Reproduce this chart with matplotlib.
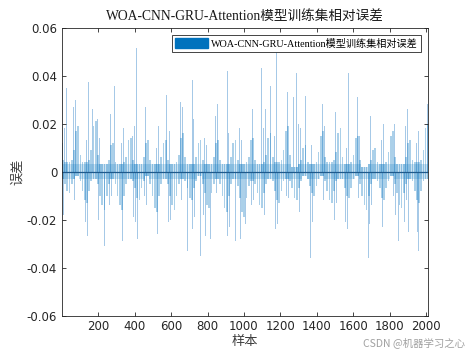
import matplotlib
matplotlib.use("Agg")
import matplotlib.pyplot as plt
from matplotlib.patches import Patch
import numpy as np

# bins of 12 samples, 8 bins per "day" of 96 samples, 21 rows
bin_size = 12
# dense part of the error bars in each bin
pos_core = [
    [0.005, 0.004, 0.004, 0.004, 0.005, 0.009, 0.017, 0.019],
    [0.007, 0.004, 0.004, 0.004, 0.005, 0.009, 0.019, 0.021],
    [0.007, 0.003, 0.003, 0.003, 0.003, 0.005, 0.011, 0.012],
    [0.004, 0.003, 0.003, 0.003, 0.004, 0.006, 0.013, 0.014],
    [0.005, 0.003, 0.003, 0.003, 0.003, 0.006, 0.012, 0.013],
    [0.005, 0.003, 0.003, 0.003, 0.003, 0.006, 0.012, 0.013],
    [0.005, 0.003, 0.003, 0.003, 0.004, 0.007, 0.014, 0.016],
    [0.006, 0.003, 0.003, 0.003, 0.003, 0.006, 0.012, 0.013],
    [0.005, 0.003, 0.003, 0.003, 0.003, 0.006, 0.012, 0.013],
    [0.005, 0.003, 0.003, 0.003, 0.003, 0.006, 0.012, 0.013],
    [0.005, 0.003, 0.003, 0.003, 0.004, 0.006, 0.013, 0.014],
    [0.005, 0.003, 0.003, 0.003, 0.004, 0.007, 0.014, 0.016],
    [0.006, 0.004, 0.004, 0.004, 0.005, 0.009, 0.017, 0.019],
    [0.007, 0.002, 0.002, 0.002, 0.003, 0.005, 0.010, 0.011],
    [0.004, 0.003, 0.003, 0.003, 0.004, 0.008, 0.015, 0.017],
    [0.006, 0.004, 0.004, 0.004, 0.005, 0.008, 0.016, 0.018],
    [0.006, 0.003, 0.003, 0.003, 0.004, 0.007, 0.014, 0.015],
    [0.005, 0.002, 0.002, 0.002, 0.003, 0.005, 0.009, 0.010],
    [0.004, 0.003, 0.003, 0.003, 0.004, 0.008, 0.015, 0.017],
    [0.006, 0.003, 0.003, 0.003, 0.003, 0.006, 0.012, 0.013],
    [0.005, 0.004, 0.004, 0.004, 0.005, 0.009, 0.018, 0.020],
]
neg_core = [
    [-0.003, -0.005, -0.008, -0.009, -0.005, -0.003, -0.002, -0.002],
    [-0.004, -0.008, -0.012, -0.013, -0.008, -0.004, -0.003, -0.003],
    [-0.005, -0.010, -0.014, -0.016, -0.010, -0.005, -0.003, -0.003],
    [-0.005, -0.010, -0.014, -0.016, -0.010, -0.005, -0.003, -0.003],
    [-0.004, -0.007, -0.011, -0.012, -0.007, -0.004, -0.002, -0.002],
    [-0.005, -0.010, -0.015, -0.017, -0.010, -0.005, -0.003, -0.003],
    [-0.005, -0.010, -0.014, -0.016, -0.010, -0.005, -0.003, -0.003],
    [-0.004, -0.007, -0.011, -0.012, -0.007, -0.004, -0.002, -0.002],
    [-0.005, -0.009, -0.014, -0.015, -0.009, -0.005, -0.003, -0.003],
    [-0.005, -0.010, -0.015, -0.017, -0.010, -0.005, -0.003, -0.003],
    [-0.006, -0.011, -0.017, -0.019, -0.011, -0.006, -0.004, -0.004],
    [-0.005, -0.009, -0.014, -0.015, -0.009, -0.005, -0.003, -0.003],
    [-0.004, -0.008, -0.012, -0.013, -0.008, -0.004, -0.003, -0.003],
    [-0.004, -0.007, -0.011, -0.012, -0.007, -0.004, -0.002, -0.002],
    [-0.003, -0.006, -0.009, -0.010, -0.006, -0.003, -0.002, -0.002],
    [-0.004, -0.008, -0.012, -0.013, -0.008, -0.004, -0.003, -0.003],
    [-0.003, -0.007, -0.010, -0.011, -0.007, -0.003, -0.002, -0.002],
    [-0.005, -0.010, -0.014, -0.016, -0.010, -0.005, -0.003, -0.003],
    [-0.004, -0.007, -0.011, -0.012, -0.007, -0.004, -0.002, -0.002],
    [-0.005, -0.009, -0.014, -0.015, -0.009, -0.005, -0.003, -0.003],
    [-0.004, -0.008, -0.012, -0.013, -0.008, -0.004, -0.003, -0.003],
]
# tallest faint bar seen in each bin
pos_tall = [
    [0.012, 0.018, 0.010, 0.022, 0.016, 0.027, 0.030, 0.024],
    [0.020, 0.011, 0.016, 0.013, 0.024, 0.021, 0.033, 0.029],
    [0.022, 0.014, 0.009, 0.019, 0.015, 0.026, 0.024, 0.020],
    [0.017, 0.010, 0.021, 0.012, 0.018, 0.028, 0.025, 0.030],
    [0.015, 0.019, 0.011, 0.016, 0.023, 0.020, 0.027, 0.022],
    [0.018, 0.012, 0.015, 0.010, 0.019, 0.025, 0.022, 0.026],
    [0.013, 0.017, 0.012, 0.020, 0.014, 0.024, 0.029, 0.027],
    [0.021, 0.010, 0.018, 0.013, 0.022, 0.019, 0.026, 0.023],
    [0.016, 0.014, 0.011, 0.017, 0.021, 0.027, 0.023, 0.028],
    [0.019, 0.012, 0.020, 0.011, 0.016, 0.022, 0.030, 0.025],
    [0.014, 0.018, 0.013, 0.019, 0.024, 0.020, 0.028, 0.026],
    [0.020, 0.011, 0.016, 0.014, 0.018, 0.026, 0.031, 0.027],
    [0.017, 0.015, 0.012, 0.021, 0.016, 0.024, 0.029, 0.033],
    [0.022, 0.010, 0.017, 0.012, 0.020, 0.018, 0.025, 0.021],
    [0.013, 0.016, 0.011, 0.018, 0.023, 0.027, 0.030, 0.028],
    [0.019, 0.013, 0.019, 0.014, 0.017, 0.025, 0.032, 0.029],
    [0.021, 0.017, 0.010, 0.016, 0.022, 0.020, 0.027, 0.024],
    [0.015, 0.011, 0.018, 0.012, 0.015, 0.023, 0.021, 0.026],
    [0.012, 0.019, 0.013, 0.020, 0.018, 0.028, 0.031, 0.027],
    [0.020, 0.012, 0.016, 0.011, 0.021, 0.019, 0.026, 0.024],
    [0.016, 0.018, 0.012, 0.017, 0.022, 0.027, 0.033, 0.030],
]
neg_tall = [
    [-0.018, -0.022, -0.026, -0.020, -0.017, -0.012, -0.010, -0.014],
    [-0.015, -0.024, -0.021, -0.027, -0.019, -0.011, -0.013, -0.009],
    [-0.020, -0.019, -0.028, -0.025, -0.022, -0.014, -0.010, -0.012],
    [-0.016, -0.026, -0.023, -0.029, -0.018, -0.013, -0.011, -0.015],
    [-0.019, -0.021, -0.025, -0.022, -0.020, -0.010, -0.014, -0.011],
    [-0.017, -0.025, -0.029, -0.026, -0.021, -0.015, -0.010, -0.013],
    [-0.021, -0.020, -0.027, -0.030, -0.017, -0.012, -0.012, -0.010],
    [-0.014, -0.023, -0.022, -0.024, -0.019, -0.011, -0.013, -0.014],
    [-0.018, -0.027, -0.025, -0.028, -0.016, -0.014, -0.009, -0.012],
    [-0.020, -0.022, -0.030, -0.027, -0.023, -0.012, -0.011, -0.010],
    [-0.016, -0.028, -0.026, -0.031, -0.020, -0.013, -0.014, -0.012],
    [-0.019, -0.021, -0.027, -0.024, -0.018, -0.010, -0.012, -0.013],
    [-0.017, -0.024, -0.022, -0.026, -0.021, -0.014, -0.010, -0.011],
    [-0.015, -0.020, -0.025, -0.023, -0.017, -0.011, -0.013, -0.010],
    [-0.018, -0.019, -0.021, -0.024, -0.019, -0.012, -0.009, -0.012],
    [-0.016, -0.023, -0.026, -0.022, -0.020, -0.013, -0.011, -0.014],
    [-0.014, -0.021, -0.024, -0.020, -0.016, -0.010, -0.012, -0.011],
    [-0.019, -0.026, -0.028, -0.025, -0.022, -0.014, -0.010, -0.013],
    [-0.017, -0.020, -0.023, -0.026, -0.018, -0.011, -0.013, -0.010],
    [-0.018, -0.025, -0.027, -0.024, -0.021, -0.012, -0.011, -0.012],
    [-0.016, -0.022, -0.025, -0.023, -0.019, -0.013, -0.010, -0.012],
]

# isolated tall error spikes (sample index, value)
pos_spike_x = [25, 45, 100, 120, 145, 169, 197, 220, 242, 288, 309, 331, 375, 410,
               430, 479, 510, 574, 616, 671, 717, 758, 812, 863, 890, 909, 985,
               1005, 1054, 1096, 1146, 1179, 1197, 1237, 1273, 1288, 1337, 1380,
               1423, 1478, 1529, 1574, 1624, 1675, 1715, 1770, 1812, 1867, 1916,
               1949, 2008]
pos_spike_y = [0.0348, 0.0438, 0.030, 0.026, 0.0375, 0.026, 0.0396, 0.0315, 0.0493,
               0.0355, 0.0371, 0.0417, 0.028, 0.0514, 0.0368, 0.038, 0.0265, 0.032,
               0.037, 0.030, 0.038, 0.030, 0.0403, 0.031, 0.0438, 0.0418, 0.037,
               0.036, 0.045, 0.0432, 0.0355, 0.050, 0.050, 0.0305, 0.031, 0.041,
               0.0315, 0.0514, 0.0355, 0.0493, 0.034, 0.041, 0.031, 0.049, 0.031,
               0.038, 0.031, 0.037, 0.031, 0.040, 0.028]
neg_spike_x = [28, 60, 133, 233, 279, 333, 370, 416, 479, 516, 561, 616, 689, 762,
               817, 890, 954, 1009, 1073, 1164, 1191, 1265, 1365, 1438, 1484, 1566,
               1611, 1684, 1757, 1848, 1903, 1958, 1995]
neg_spike_y = [-0.031, -0.022, -0.0306, -0.031, -0.038, -0.024, -0.033, -0.028,
               -0.024, -0.042, -0.028, -0.038, -0.033, -0.035, -0.028, -0.041,
               -0.029, -0.022, -0.031, -0.035, -0.038, -0.028, -0.036, -0.024,
               -0.027, -0.032, -0.028, -0.036, -0.0375, -0.029, -0.025, -0.033,
               -0.028]

xticks = [200, 400, 600, 800, 1000, 1200, 1400, 1600, 1800, 2000]
yticks = [-0.06, -0.04, -0.02, 0, 0.02, 0.04, 0.06]
ytick_labels = ["-0.06", "-0.04", "-0.02", "0", "0.02", "0.04", "0.06"]

title = "WOA-CNN-GRU-Attention模型训练集相对误差"
serif = ["Liberation Serif", "Noto Sans CJK SC"]
cjk = ["Noto Sans CJK SC", "DejaVu Sans"]
blue = "#0072BD"
faint = "#a6c9e7"

fig = plt.figure(figsize=(4.74, 3.55), dpi=100)
ax = fig.add_axes([0.131, 0.111, 0.772, 0.811])

pc = np.ravel(pos_core)
nc = np.ravel(neg_core)
pt = np.ravel(pos_tall)
nt = np.ravel(neg_tall)
bx = np.arange(len(pc)) * bin_size

# faint tall bars first
ax.bar(bx + 3, pt, width=1.6, color=faint, linewidth=0)
ax.bar(bx + 9, nt, width=1.6, color=faint, linewidth=0)
ax.bar(pos_spike_x, pos_spike_y, width=2.2, color=faint, linewidth=0)
ax.bar(neg_spike_x, neg_spike_y, width=2.2, color=faint, linewidth=0)

# dense part, slightly narrower than the bin so it reads as a bundle of bars
ax.bar(bx + 1, pc, width=9.5, align="edge", color=blue, alpha=0.33, linewidth=0)
ax.bar(bx + 1, nc, width=9.5, align="edge", color=blue, alpha=0.33, linewidth=0)
ax.bar(bx, np.clip(pc, 0, 0.003), width=bin_size, align="edge", color=blue, alpha=0.2, linewidth=0)
ax.bar(bx, np.clip(nc, -0.003, 0), width=bin_size, align="edge", color=blue, alpha=0.2, linewidth=0)
ax.axhline(0, color="#1f5a8c", lw=0.9)

ax.set_xlim(1, 2011)
ax.set_ylim(-0.06, 0.06)
ax.set_xticks(xticks)
ax.set_yticks(yticks)
ax.set_yticklabels(ytick_labels)
ax.tick_params(direction="in", top=True, right=True, length=3, width=0.6,
               labelsize=8.5, colors="#262626")
for s in ax.spines.values():
    s.set_color("#262626")
    s.set_linewidth(0.6)

ax.set_title(title, family=serif, fontsize=9.8, color="#1a1a1a", pad=5)
ax.set_xlabel("样本", family=cjk, fontsize=9.5, color="#404040", labelpad=1)
ax.set_ylabel("误差", family=cjk, fontsize=9.5, color="#404040", labelpad=2)

leg = ax.legend(handles=[Patch(color=blue, label=title)], loc="upper right",
                prop={"family": serif, "size": 7.3}, fancybox=False, framealpha=1,
                edgecolor="#262626", handlelength=3.2, handleheight=1.0,
                borderpad=0.35, borderaxespad=0.7, handletextpad=0.3)
leg.get_frame().set_linewidth(0.6)

fig.text(0.982, 0.02, "CSDN @机器学习之心", family=cjk, fontsize=7.5,
         color="#a0a0a0", ha="right", va="bottom")

fig.savefig("out.png", dpi=100)
